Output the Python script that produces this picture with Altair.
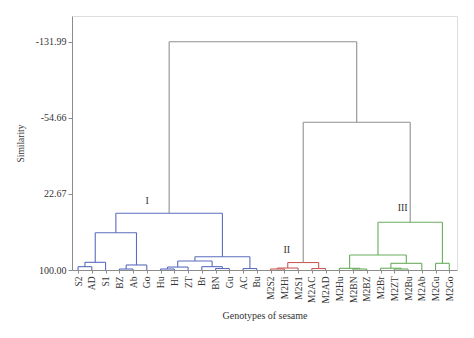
import json
import altair as alt
import pandas as pd

# ---- data -------------------------------------------------------------
leaves = ["S2", "AD", "S1", "BZ", "Ab", "Go", "Hu", "Hi", "ZT", "Br", "BN", "Gu",
          "AC", "Bu", "M2S2", "M2Hi", "M2S1", "M2AC", "M2AD", "M2Hu", "M2BN",
          "M2BZ", "M2Br", "M2ZT", "M2Bu", "M2Ab", "M2Gu", "M2Go"]

# merges: node ids 0..27 are leaves, merge k creates node 28+k
merge_left = [0, 28, 3, 30, 29, 6, 33, 10, 9, 34, 12, 37, 32,
              14, 41, 17, 42,
              20, 19, 23, 22, 48, 46, 26, 50,
              44, 40]
merge_right = [1, 2, 4, 5, 31, 7, 8, 11, 35, 36, 13, 38, 39,
               15, 16, 18, 43,
               21, 45, 24, 47, 25, 49, 27, 51,
               52, 53]
merge_similarity = [96.6, 92.2, 99.0, 94.9, 62.1, 99.0, 97.0, 98.5, 96.6, 90.9, 98.5, 86.5, 42.4,
                    99.0, 98.0, 98.5, 92.4,
                    99.0, 98.3, 99.0, 98.2, 93.2, 84.8, 93.2, 51.5,
                    -50.1, -131.99]
merge_group = ["I"] * 13 + ["II"] * 4 + ["III"] * 8 + ["top", "top"]

y_ticks = [100.00, 22.67, -54.66, -131.99]
cluster_names = ["I", "II", "III"]
cluster_nodes = [40, 44, 52]

# ---- build dendrogram segments -----------------------------------------
n = len(leaves)
node_x = {i: float(i) for i in range(n)}
node_y = {i: 100.0 for i in range(n)}
segs = []
for k, (a, b, s, g) in enumerate(zip(merge_left, merge_right, merge_similarity, merge_group)):
    node = n + k
    xa, xb = node_x[a], node_x[b]
    node_x[node] = (xa + xb) / 2
    node_y[node] = s
    segs.append(dict(x=xa, x2=xa, y=node_y[a], y2=s, g=g))
    segs.append(dict(x=xb, x2=xb, y=node_y[b], y2=s, g=g))
    segs.append(dict(x=xa, x2=xb, y=s, y2=s, g=g))
seg_df = pd.DataFrame(segs)

FONT = "Liberation Serif"
GREY = "#8c8c8c"

color = alt.Color("g:N", legend=None,
                  scale=alt.Scale(domain=["I", "II", "III", "top"],
                                  range=["#5a6cbd", "#c95b57", "#6aad5e", "#909090"]))

x_scale = alt.Scale(domain=[-0.44, 27.56], nice=False, zero=False)
y_scale = alt.Scale(domain=[100, -158.1], nice=False, zero=False)

label_expr = json.dumps(leaves) + "[datum.value]"

x_axis = alt.Axis(values=list(range(n)), labelExpr=label_expr,
                  labelAngle=270, labelAlign="right", labelBaseline="middle",
                  labelOverlap=False, labelFlush=False, labelBound=False,
                  labelPadding=3, tickSize=3, grid=False,
                  title="Genotypes of sesame", titlePadding=8,
                  labelFont=FONT, labelFontSize=9.5, labelColor="#333",
                  titleFont=FONT, titleFontSize=10, titleFontWeight="normal",
                  titleColor="#333", domainColor=GREY, tickColor=GREY)
y_axis = alt.Axis(values=y_ticks,
                  labelExpr="replace(format(datum.value, '.2f'), '\u2212', '-')",
                  labelOverlap=False, labelFlush=False,
                  tickSize=4, grid=False, title="Similarity", titlePadding=10,
                  labelFont=FONT, labelFontSize=10, labelColor="#333",
                  titleFont=FONT, titleFontSize=9.5, titleFontWeight="normal",
                  titleColor="#333", domainColor=GREY, tickColor=GREY)

rules = alt.Chart(seg_df).mark_rule(strokeWidth=1.1).encode(
    x=alt.X("x:Q", scale=x_scale, axis=x_axis),
    x2="x2:Q",
    y=alt.Y("y:Q", scale=y_scale, axis=y_axis),
    y2="y2:Q",
    color=color,
)

offsets = [(-22, -12), (-16.5, -12.5), (-7.5, -14)]
layers = [rules]
for name, node, (dx, dy) in zip(cluster_names, cluster_nodes, offsets):
    df = pd.DataFrame({"x": [node_x[node]], "y": [node_y[node]], "t": [name]})
    layers.append(
        alt.Chart(df).mark_text(font=FONT, fontSize=10, color="#333", dx=dx, dy=dy,
                                align="center", baseline="middle").encode(
            x=alt.X("x:Q", scale=x_scale, axis=x_axis),
            y=alt.Y("y:Q", scale=y_scale, axis=y_axis),
            text="t:N")
    )

chart = alt.layer(*layers).properties(
    width=385, height=254,
    padding={"left": 72, "top": 16, "right": 17, "bottom": 68},
    autosize=alt.AutoSizeParams(type="none"),
).configure_view(stroke=GREY, strokeWidth=1).configure(background="white")

chart.save("out.html", embed_options={"renderer": "svg", "actions": False})
